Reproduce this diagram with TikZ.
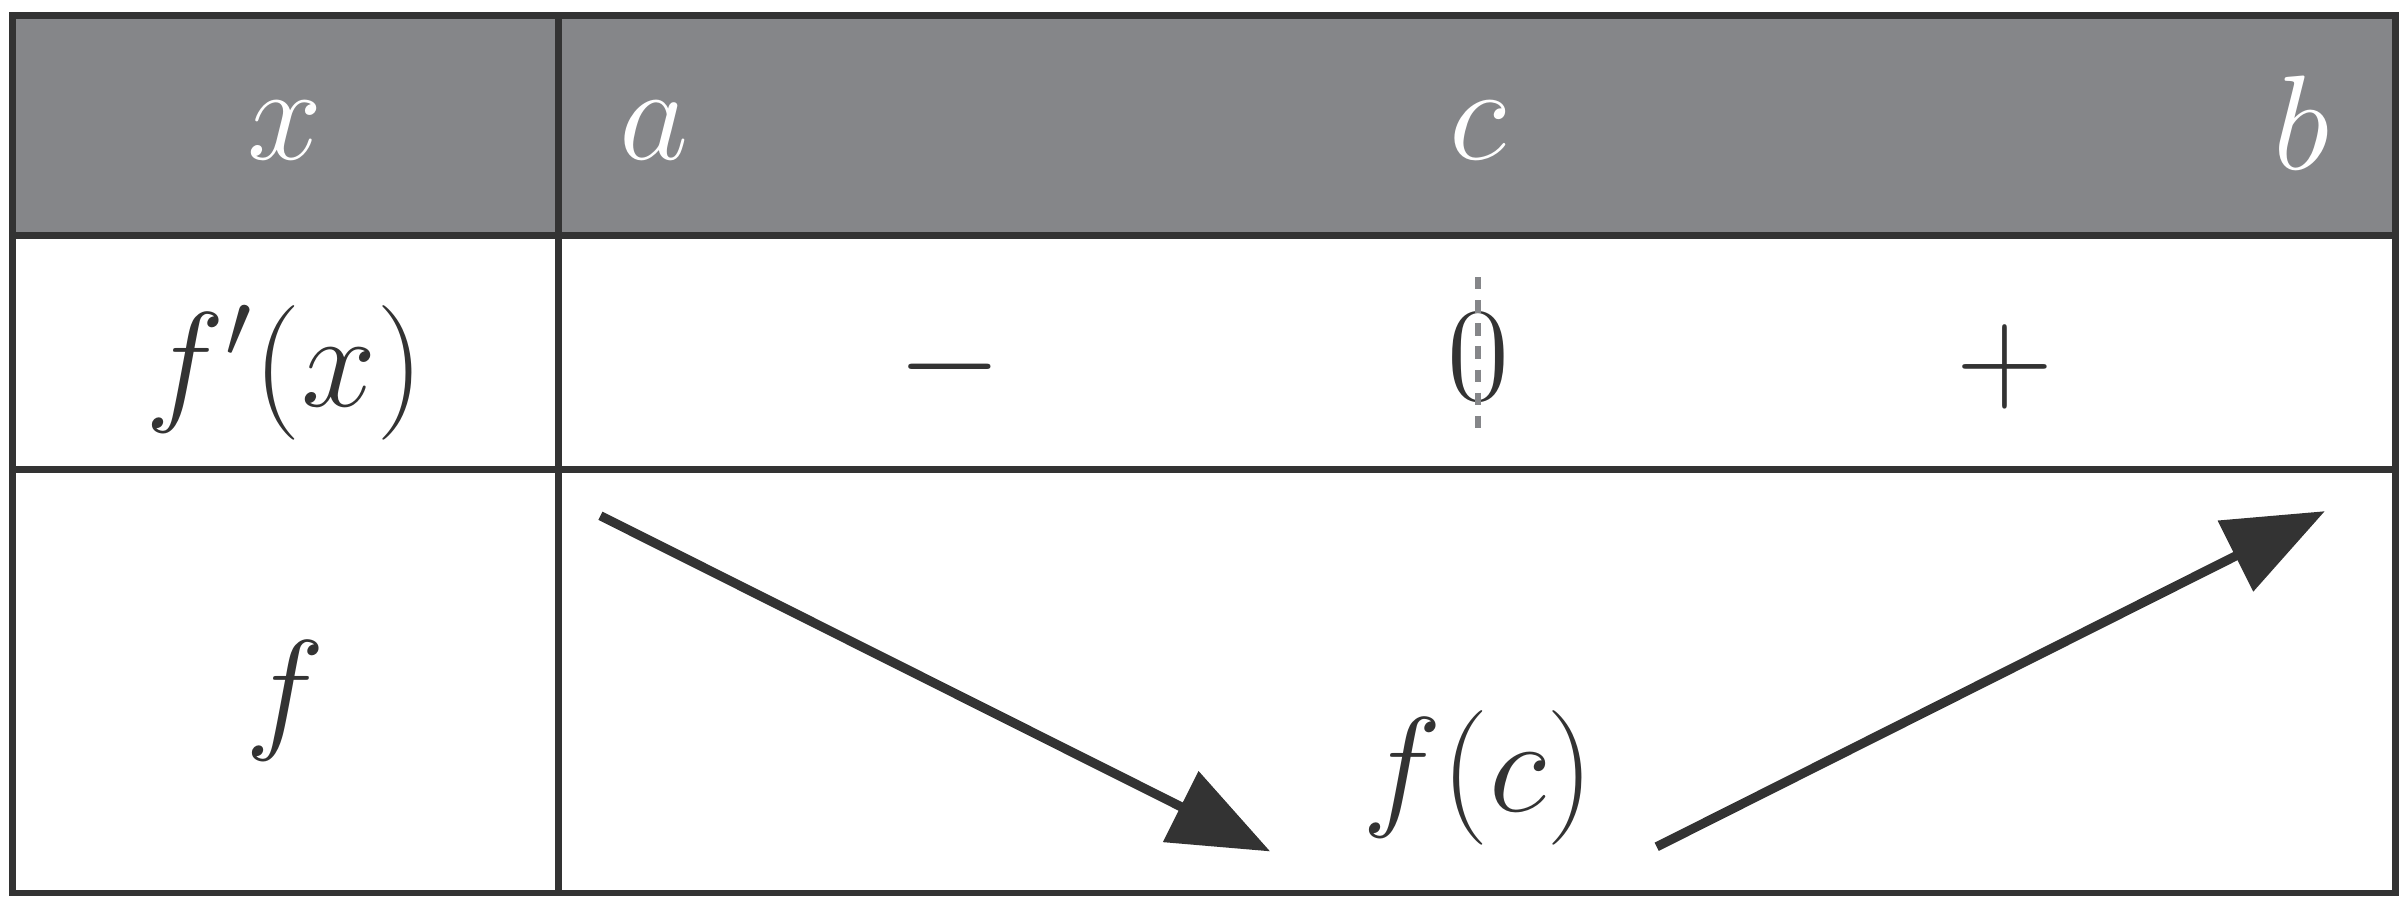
\documentclass[tikz,border=0pt]{standalone}
\usetikzlibrary{arrows.meta}
\definecolor{dark}{HTML}{333333}
\definecolor{head}{HTML}{858689}
\begin{document}
\begin{tikzpicture}[x=0.01cm,y=-0.01cm,
  lbl/.style={font=\fontsize{24}{28}\selectfont, inner sep=0pt},
  grid/.style={draw=dark, line width=0.45mm},
  arr/.style={draw=dark, line width=0.6mm, -{Triangle[length=0.65cm,width=0.5cm]}}]
\useasboundingbox (0,0) rectangle (1564,588);
\fill[head] (8,10) rectangle (1556,153);
\draw[grid] (8,10) rectangle (1556,580);
\draw[grid] (8,153) -- (1556,153);
\draw[grid] (8,305) -- (1556,305);
\draw[grid] (363,10) -- (363,580);
\node[lbl,text=white] (hx) at (185,85) {$x$};
\node[lbl,text=white] (ha) at (425,85) {$a$};
\node[lbl,text=white] (hc) at (960,85) {$c$};
\node[lbl,text=white] (hb) at (1495,80) {$b$};
\node[lbl,text=dark] (fpx) at (185,242) {$f'(x)$};
\node[lbl,text=dark] (mi) at (617,238) {$-$};
\node[lbl,text=dark] (z) at (960,232) {$0$};
\node[lbl,text=dark] (pl) at (1302,238) {$+$};
\draw[head, line width=0.4mm, dash pattern=on 0.8mm off 0.7mm] (960,180) -- (960,282);
\node[lbl,text=dark] (f) at (185,455) {$f$};
\node[lbl,text=dark] (fc) at (960,505) {$f(c)$};
\coordinate (s1) at (390,335); \coordinate (e1) at (825,553);
\coordinate (s2) at (1076,550); \coordinate (e2) at (1510,332);
\draw[arr] (s1) -- (e1);
\draw[arr] (s2) -- (e2);
\end{tikzpicture}
\end{document}
